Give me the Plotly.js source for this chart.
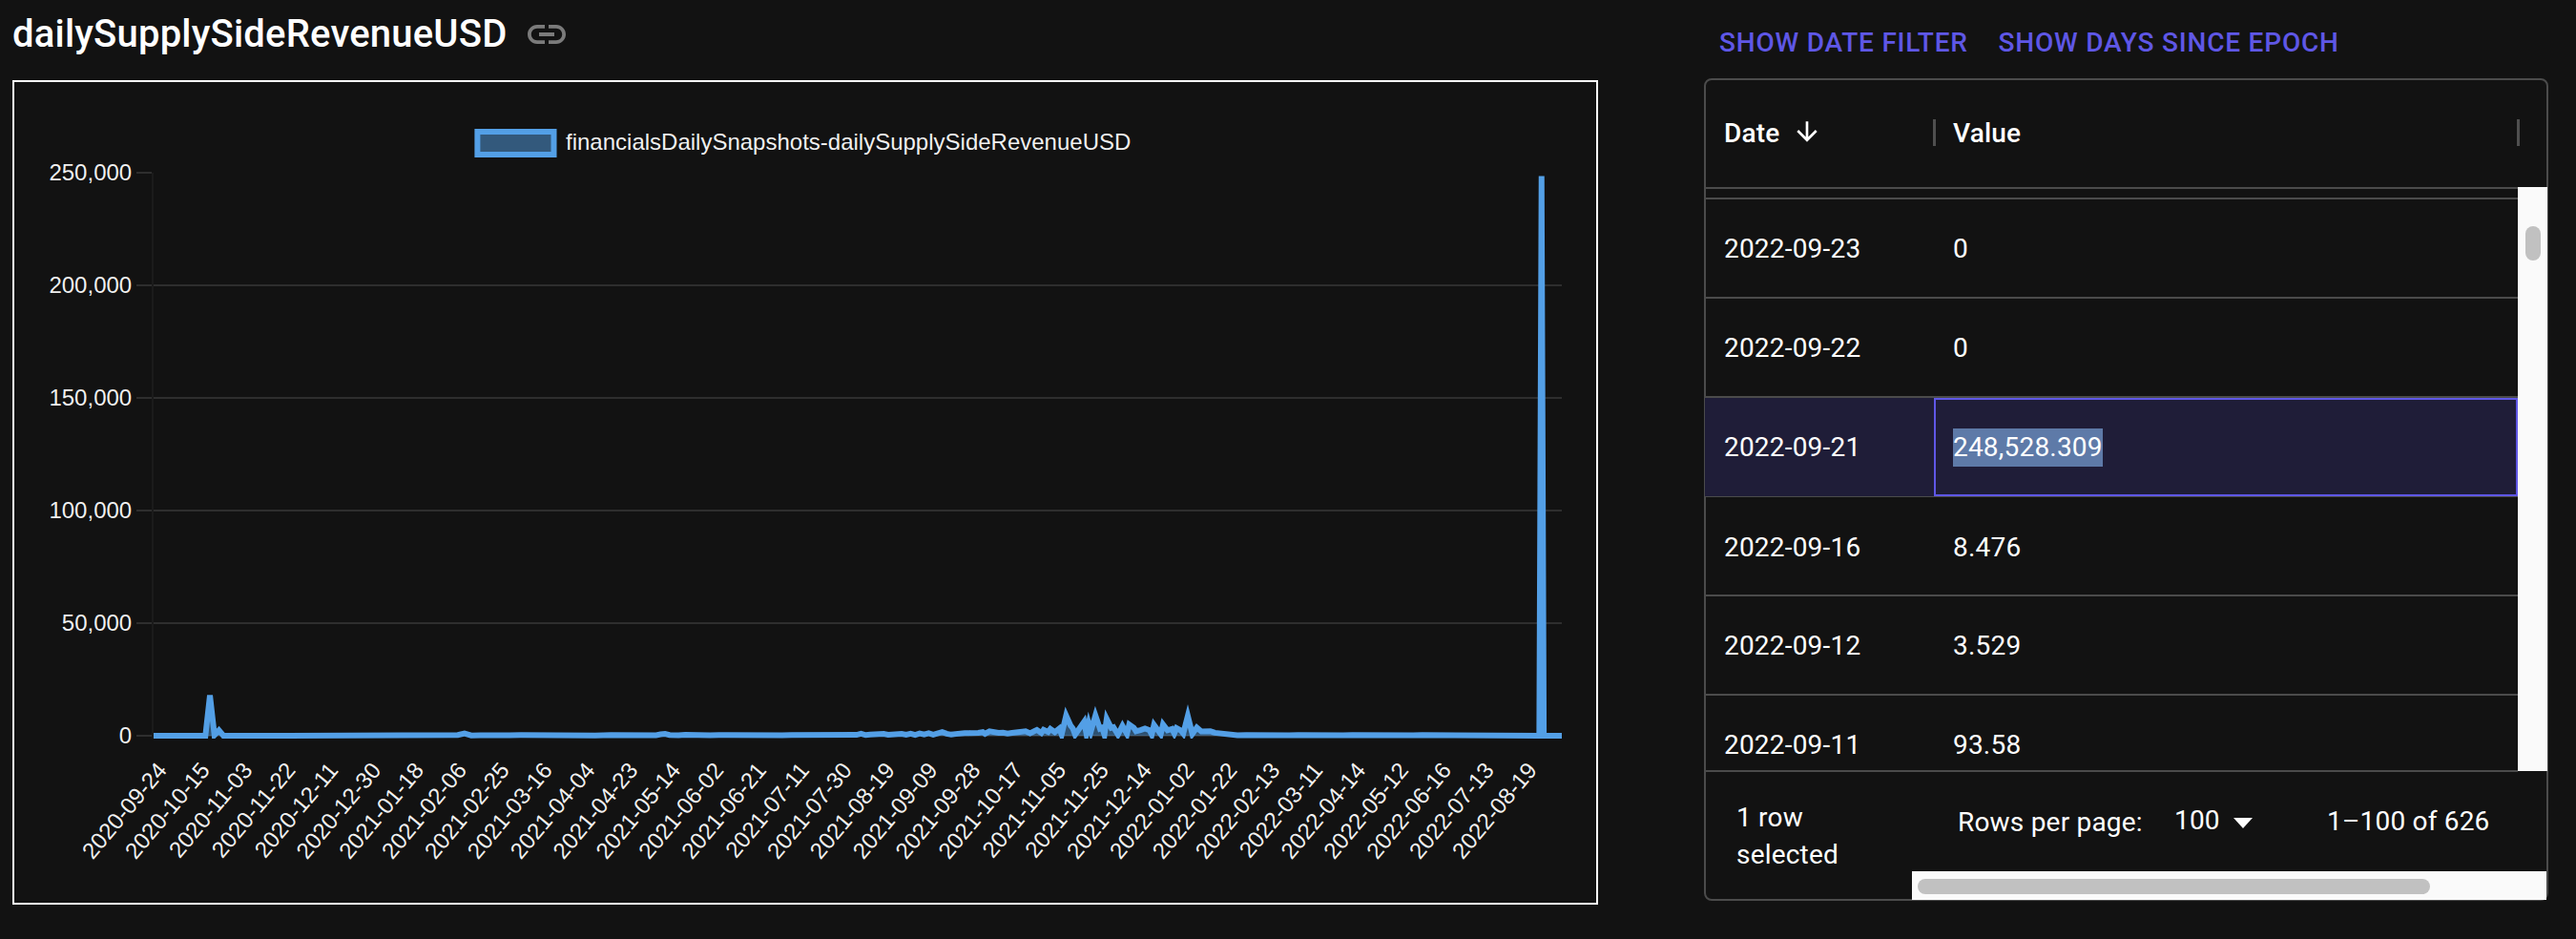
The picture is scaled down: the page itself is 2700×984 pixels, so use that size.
<!DOCTYPE html>
<html>
<head>
<meta charset="utf-8">
<script src="https://cdn.plot.ly/plotly-3.0.1.min.js"></script>
<style>
html,body{margin:0;padding:0;background:#121212;width:2700px;height:984px;overflow:hidden;font-family:Roboto,sans-serif;color:#fff}
.abs{position:absolute;white-space:nowrap}
#plot{position:absolute;left:13px;top:85px;width:1661px;height:862px}
#plot .js-line{stroke-miterlimit:8 !important;stroke-linejoin:miter !important}
#frame{position:absolute;left:13px;top:84px;width:1662px;height:864px;border:2px solid #fff;box-sizing:border-box;pointer-events:none;z-index:2}
.t{position:absolute;white-space:nowrap;font-size:28px;line-height:32px;transform:translateY(-50%);letter-spacing:.2px}
</style>
</head>
<body>
<div class="abs" id="title" style="left:13px;top:13px;font-size:40px;line-height:46px;font-weight:500;letter-spacing:.2px">dailySupplySideRevenueUSD</div>
<svg class="abs" style="left:549px;top:12px;width:48px;height:48px" viewBox="0 0 24 24" fill="#7b7b7b"><path d="M3.9 12c0-1.71 1.39-3.1 3.1-3.1h4V7H7c-2.76 0-5 2.24-5 5s2.24 5 5 5h4v-1.9H7c-1.71 0-3.1-1.39-3.1-3.1zM8 13h8v-2H8v2zm9-6h-4v1.9h4c1.71 0 3.1 1.39 3.1 3.1s-1.39 3.1-3.1 3.1h-4V17h4c2.76 0 5-2.24 5-5s-2.24-5-5-5z"/></svg>
<div id="plot"></div>
<div id="frame"></div>
<div id="table"></div>
<script>
// ---- chart data ----
const tickLabels = ["2020-09-24","2020-10-15","2020-11-03","2020-11-22","2020-12-11","2020-12-30","2021-01-18","2021-02-06","2021-02-25","2021-03-16","2021-04-04","2021-04-23","2021-05-14","2021-06-02","2021-06-21","2021-07-11","2021-07-30","2021-08-19","2021-09-09","2021-09-28","2021-10-17","2021-11-05","2021-11-25","2021-12-14","2022-01-02","2022-01-22","2022-02-13","2022-03-11","2022-04-14","2022-05-12","2022-06-16","2022-07-13","2022-08-19"];
const tickEvery = 19;
const seriesName = "financialsDailySnapshots-dailySupplySideRevenueUSD";

const earlyDay = [0,14,15,16,23,25,27,29,31,60,93];
const earlyUsd = [0,0,500,0,0,18000,300,2400,0,50,100];

const lowDay = [97,100,104,107,110,114,119,122,127,131,135,138,141,145,150,153,158,163,168,172,178,184,190,196,203,209,215,219,221,223,225,227,229,231,233,236,239,243,247,251,255,259,263,267,271,275,279,283,287,291,295,299,303,307];
const lowUsd = [200,100,200,300,150,200,500,150,200,200,300,1000,150,200,450,200,250,300,200,250,300,250,250,150,300,200,250,200,550,250,600,850,350,600,250,450,250,400,250,350,250,400,250,350,250,350,200,300,250,300,200,300,200,300];

const midDay = [310,312,314,316,318,320,322,324,326,328,330,332,334,336,338,340,342,344,346,348,350,352,354,356,358,360,362,364,366,368,369,371,373,375,377,379,381,383];
const midUsd = [300,400,900,300,500,700,300,800,400,700,500,850,450,950,400,1000,600,1100,500,1300,1600,900,500,800,1200,1200,1200,950,1300,1600,900,2000,1500,1300,1400,1000,1300,1600];

const busyDay = [385,387,389,391,392,394,395,397,398,400,402,403,405,407,408,409,411,413,414,415,416,418,420,421,422,423,425,426,428,430,432,433,435,436,438,440,442,443,444,446,447,448,450,452,453,454,456,457,459,461,463,465,467,469,471,473,475];
const busyUsd = [1400,2000,1100,2100,2600,1200,2600,1700,3000,1600,3200,500,9000,4500,3200,500,3000,6200,900,5500,2000,9000,3200,3600,400,7500,3500,3800,500,4400,800,5000,3600,2000,2500,3200,2500,500,4800,1900,700,5000,2400,3000,1000,3400,2300,1000,8800,800,3600,1900,2000,2000,1300,1000,800];

const lateDay = [478,481,485,489,493,496,500,504,508,512,516,520,524,528,532,536,540,543,547,551,555,559,563,567,571,574,577,581,585,590,595,600,606,610,612,615,616,617,625];
const lateUsd = [350,200,300,200,400,200,300,250,350,200,300,250,300,200,300,200,450,250,350,250,300,200,300,250,350,450,200,200,150,200,150,200,150,250,150,0,248528.309,0,0];

// ---- table data ----
const rowDates = ["2022-09-23","2022-09-22","2022-09-21","2022-09-16","2022-09-12","2022-09-11"];
const rowValues = ["0","0","248,528.309","8.476","3.529","93.58"];

const days = [].concat(earlyDay,lowDay,midDay,busyDay,lateDay);
const usd  = [].concat(earlyUsd,lowUsd,midUsd,busyUsd,lateUsd);

const lineBlue = "#539fe6";
const textCol = "rgba(255,255,255,0.95)";
const gridCol = "rgba(255,255,255,0.12)";

Plotly.newPlot("plot",[{
  x:days,y:usd,type:"scatter",mode:"lines",name:seriesName,
  fill:"tozeroy",fillcolor:"rgba(83,159,230,0.45)",
  line:{color:lineBlue,width:6},showlegend:false,hoverinfo:"skip"
}],{
  width:1661,height:862,
  paper_bgcolor:"#121212",plot_bgcolor:"#121212",
  margin:{l:148,r:37,t:96,b:173,pad:0},
  font:{family:"Liberation Sans, Arial, sans-serif",size:24,color:textCol},
  xaxis:{range:[0,625],tickmode:"array",tickvals:tickLabels.map((_,k)=>k*tickEvery),ticktext:tickLabels,
    tickangle:-50,showgrid:false,zeroline:false,showline:false,ticks:"",tickfont:{size:24,color:textCol},
    ticklabelstandoff:13,ticklabelshift:6,automargin:false},
  yaxis:{range:[-1271,250000],tickmode:"array",tickvals:[0,50000,100000,150000,200000,250000],tickformat:",",gridcolor:gridCol,gridwidth:2,zeroline:false,
    showline:true,linecolor:"rgba(255,255,255,0.04)",linewidth:2,ticks:"outside",ticklen:16,tickwidth:2,tickcolor:gridCol,
    tickfont:{size:24,color:textCol},automargin:false},
  shapes:[{type:"rect",xref:"paper",yref:"paper",xsizemode:"pixel",ysizemode:"pixel",xanchor:0,yanchor:1,
    x0:339.4,x1:419.5,y0:19,y1:43,line:{color:lineBlue,width:6},fillcolor:"rgba(83,159,230,0.5)"}],
  annotations:[{xref:"paper",yref:"paper",x:0,y:1,xanchor:"left",yanchor:"middle",xshift:429.5,yshift:33,
    text:seriesName,showarrow:false,font:{size:24,color:textCol}}]
},{displayModeBar:false,staticPlot:true});

// ---- table (plain page elements) ----
const T=document.getElementById("table");
function box(l,t,w,h,css){const d=document.createElement("div");d.style.cssText=`position:absolute;left:${l}px;top:${t}px;width:${w}px;height:${h}px;${css||""}`;T.appendChild(d);return d;}
function txt(l,cy,s,css){const d=document.createElement("div");d.className="t";d.style.cssText=`left:${l}px;top:${cy}px;${css||""}`;d.textContent=s;T.appendChild(d);return d;}

txt(1802,45,"SHOW DATE FILTER","color:#5f57e6;font-weight:500;letter-spacing:.8px");
txt(2094.5,45,"SHOW DAYS SINCE EPOCH","color:#5f57e6;font-weight:500;letter-spacing:.8px");

box(1786,82,885,862,"border:2px solid #4b4b4b;border-radius:8px;box-sizing:border-box");
txt(1807,139.5,"Date","font-weight:500");
T.insertAdjacentHTML("beforeend",`<svg style="position:absolute;left:1878px;top:122px;width:32px;height:32px" viewBox="0 0 24 24" fill="#fff"><path d="M20 12l-1.41-1.41L13 16.17V4h-2v12.17l-5.58-5.59L4 12l8 8 8-8z"/></svg>`);
box(2025.5,125,3,28,"background:#4f4f4f");
txt(2047,139.5,"Value","font-weight:500");
box(2637.5,125,3,28,"background:#4f4f4f");

[196,207,311,415,519,623,727,807].forEach(y=>box(1787,y,852,2,"background:#4b4b4b"));
box(1787,417,852,103,"background:#1f1d38");
box(2027,417,612,103,"border:2px solid #5f57e6;box-sizing:border-box");

const rowCenters=[260.5,364.5,468.5,573.5,676.5,780.5];
rowDates.forEach((d,k)=>{
  txt(1807,rowCenters[k],d);
  const v=txt(2047,rowCenters[k],rowValues[k]);
  if(k===2){v.style.background="#5e7aa8";v.style.lineHeight="40px";}
});

box(2639,196,30.5,612,"background:#fafafa");
box(2647,237,16,36,"background:#c1c1c1;border-radius:8px");

txt(1820,857,"1 row");
txt(1820,896,"selected");
txt(2052,862,"Rows per page:");
txt(2279,860,"100");
T.insertAdjacentHTML("beforeend",`<svg style="position:absolute;left:2341px;top:857px;width:20px;height:11px" viewBox="0 0 20 11" fill="#fff"><path d="M0 0h20L10 11z"/></svg>`);
txt(2439,861,"1–100 of 626");
box(2004,913,665,30,"background:#fafafa");
box(2010,921,537,16,"background:#c1c1c1;border-radius:8px");
</script>
</body>
</html>
